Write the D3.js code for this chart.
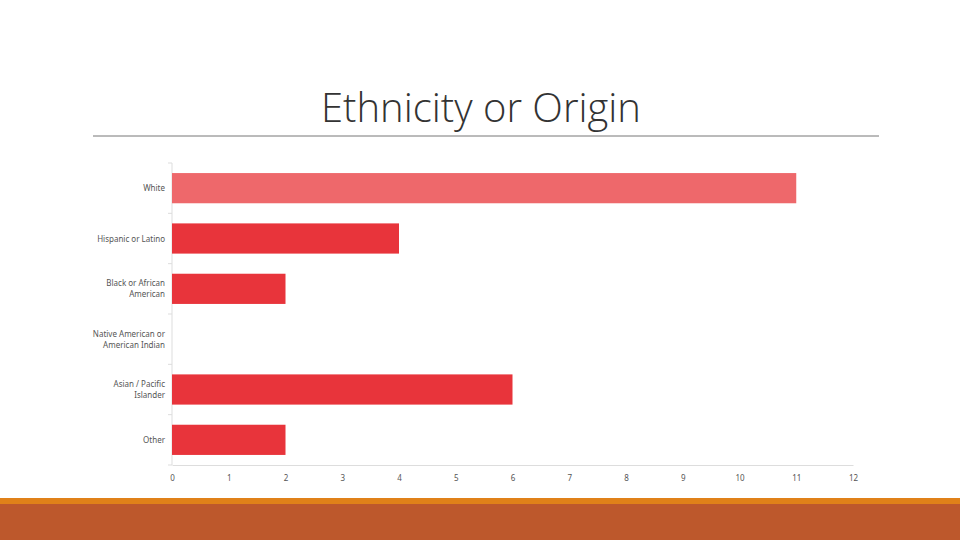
<!DOCTYPE html>
<meta charset="utf-8">
<style>
  body { margin: 0; background: #fff; }
  .tick text { font-family: "Noto Sans", sans-serif; font-size: 8px; fill: #555; }
</style>
<script src="https://d3js.org/d3.v7.min.js"></script>
<div id="chart"></div>
<script>
  const categories = [["White"], ["Hispanic or Latino"], ["Black or African", "American"],
    ["Native American or", "American Indian"], ["Asian / Pacific", "Islander"], ["Other"]];
  const values = [11, 4, 2, 0, 6, 2];
  const xTicks = [0, 1, 2, 3, 4, 5, 6, 7, 8, 9, 10, 11, 12];

  const svg = d3.select("#chart").append("svg").attr("width", 960).attr("height", 540);

  // title and rule
  svg.append("text").attr("x", 481).attr("y", 122).attr("text-anchor", "middle")
    .attr("font-family", "'Open Sans', sans-serif").attr("font-weight", 300)
    .attr("font-size", 40).attr("fill", "#333").text("Ethnicity or Origin");
  svg.append("line").attr("x1", 93).attr("x2", 879).attr("y1", 136).attr("y2", 136)
    .attr("stroke", "#777").attr("stroke-width", 1);

  const x = d3.scaleLinear().domain([0, 12]).range([172, 853]);
  const y = d3.scaleBand().domain(d3.range(values.length)).range([163, 465]).paddingInner(0.4).paddingOuter(0.2);

  // x axis
  const gx = svg.append("g").attr("transform", "translate(0,465)")
    .call(d3.axisBottom(x).tickValues(xTicks).tickSize(0).tickPadding(10));
  gx.select(".domain").attr("stroke", "#ddd");

  // y axis line with band boundary ticks
  svg.append("line").attr("x1", 172).attr("x2", 172).attr("y1", 163).attr("y2", 465).attr("stroke", "#ddd");
  const step = y.step();
  svg.selectAll(".bt").data(d3.range(values.length + 1)).enter().append("line")
    .attr("x1", 168).attr("x2", 172)
    .attr("y1", i => 163 + i * step).attr("y2", i => 163 + i * step)
    .attr("stroke", "#ddd");

  // bars
  svg.selectAll(".bar").data(values).enter().append("rect")
    .attr("x", x(0)).attr("y", (d, i) => y(i))
    .attr("width", d => x(d) - x(0)).attr("height", y.bandwidth())
    .attr("fill", (d, i) => i === 0 ? "#ee686b" : "#e8343b");

  // labels
  const lab = svg.selectAll(".lab").data(categories).enter().append("text")
    .attr("text-anchor", "end").attr("font-family", "'Noto Sans', sans-serif")
    .attr("font-size", 8).attr("fill", "#555");
  lab.each(function(lines, i) {
    const cy = y(i) + y.bandwidth() / 2;
    const t = d3.select(this);
    lines.forEach((s, k) => {
      t.append("tspan").attr("x", 165)
        .attr("y", cy + 3 + (k - (lines.length - 1) / 2) * 11).text(s);
    });
  });

  // footer bands
  svg.append("rect").attr("x", 0).attr("y", 498).attr("width", 960).attr("height", 6).attr("fill", "#e08119");
  svg.append("rect").attr("x", 0).attr("y", 504).attr("width", 960).attr("height", 36).attr("fill", "#bd582c");
</script>
